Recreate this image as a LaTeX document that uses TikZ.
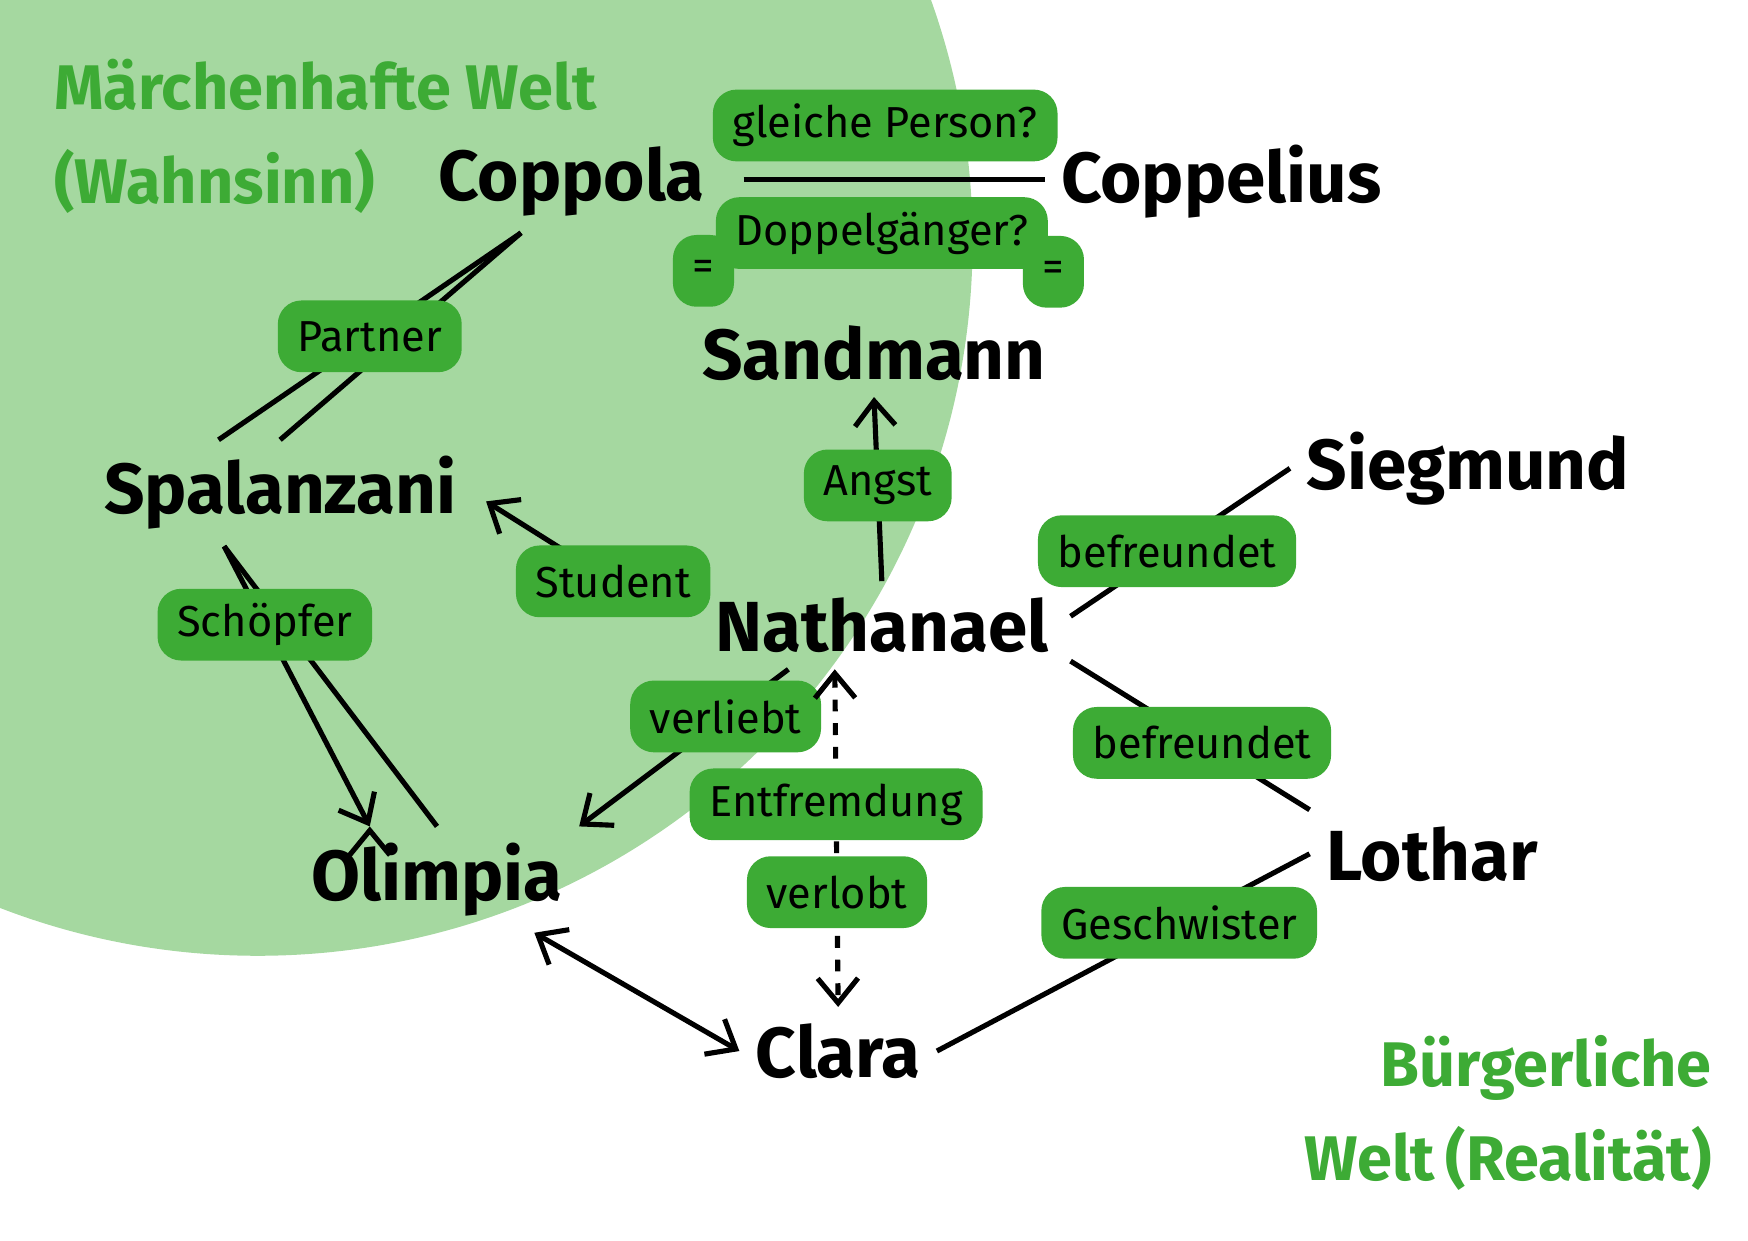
\documentclass[tikz,border=0pt]{standalone}
\usepackage{fontspec}
\setmainfont{Fira Sans}
\usetikzlibrary{arrows.meta}
\definecolor{lblgreen}{HTML}{3DAB35}
\definecolor{bggreen}{HTML}{A5D8A0}
\tikzset{
  person/.style = {font=\fontsize{18}{20}\selectfont\bfseries, inner sep=4pt},
  world/.style = {font=\fontsize{16}{24}\selectfont\bfseries, text=lblgreen},
  rel/.style = {fill=lblgreen, rounded corners=6pt, font=\fontsize{11}{13}\selectfont,
                minimum height=0.64cm, inner xsep=5pt},
  link/.style = {line width=1.3pt},
  arr/.style = {link, -{Straight Barb[length=2.2mm,width=3.6mm]}}
}
\begin{document}
\begin{tikzpicture}[x=0.01cm, y=-0.01cm]
\useasboundingbox (0,0) rectangle (1560,1107);
\fill[bggreen] (230,215) circle (638);

\node[world, anchor=north west, align=left] (maerchen) at (36,40) {Märchenhafte Welt\\(Wahnsinn)};
\node[world, anchor=south east, align=right] (buerger) at (1540,1075) {Bürgerliche\\Welt\,(Realität)};

\node[person] (coppola) at (510,162) {Coppola};
\node[person] (coppelius) at (1090,162) {Coppelius};
\node[person] (sandmann) at (780,315) {Sandmann};
\node[person] (spalanzani) at (250,440) {Spalanzani};
\node[person] (siegmund) at (1310,418) {Siegmund};
\node[person] (nathanael) at (787,558) {Nathanael};
\node[person] (lothar) at (1278,762) {Lothar};
\node[person] (olimpia) at (390,785) {Olimpia};
\node[person] (clara) at (748,938) {Clara};

% Figuren oben
\draw[link] (coppola.east) ++(20,-2) coordinate (c1) -- (c1 -| coppelius.west) coordinate (c2);
\node[rel] (gleich) at (790,112) {gleiche Person?};
\node[rel] (doppel) at (787,208) {Doppelgänger?};
\draw[link, shorten <=2pt, shorten >=2pt] (coppola.south east) -- (sandmann.north west) node[rel, pos=0.5] {=};
\draw[link, shorten <=2pt, shorten >=2pt] (coppelius.south west) -- (sandmann.north east) node[rel, pos=0.5] {=};
\draw[link] (coppola.south) ++(-45,0) coordinate (c3) -- (spalanzani.north) ++(-55,0) coordinate (c4);
\draw[link] (c3) -- (c4) node[rel, pos=0.5] {Partner};
\draw[arr] (spalanzani.south) ++(-50,0) coordinate (s1) -- (olimpia.north) ++(-60,0) coordinate (s2);
\draw[arr] (s1) -- (s2) node[rel, pos=0.28] {Schöpfer};

% Nathanael
\draw[arr, shorten >=4pt] (nathanael.west) ++(-30,-10) -- (spalanzani.east) node[rel, pos=0.27] {Student};
\draw[arr] (nathanael.north) -- (sandmann.south) node[rel, pos=0.52] {Angst};
\draw[link] (nathanael.east) ++(5,-8) -- (siegmund.west) ++(-5,0) node[rel, pos=0.44] {befreundet};
\draw[link] (nathanael.east) ++(5,32) -- (lothar.north west) node[rel, pos=0.55] {befreundet};
\draw[arr] (nathanael.south west) ++(80,0) -- (olimpia.north east) node[rel, pos=0.3] {verliebt};
\draw[link, dashed, {Straight Barb[length=2.2mm,width=3.6mm]}-{Straight Barb[length=2.2mm,width=3.6mm]}]
  (nathanael.south) ++(-42,0) -- (clara.north) node[rel, pos=0.4] {Entfremdung} node[rel, pos=0.66] {verlobt};
\draw[link, {Straight Barb[length=2.2mm,width=3.6mm]}-{Straight Barb[length=2.2mm,width=3.6mm]}] (olimpia.south east) ++(-40,0) -- (clara.west);
\draw[link] (clara.east) -- (lothar.west) node[rel, pos=0.65] {Geschwister};
\end{tikzpicture}
\end{document}
